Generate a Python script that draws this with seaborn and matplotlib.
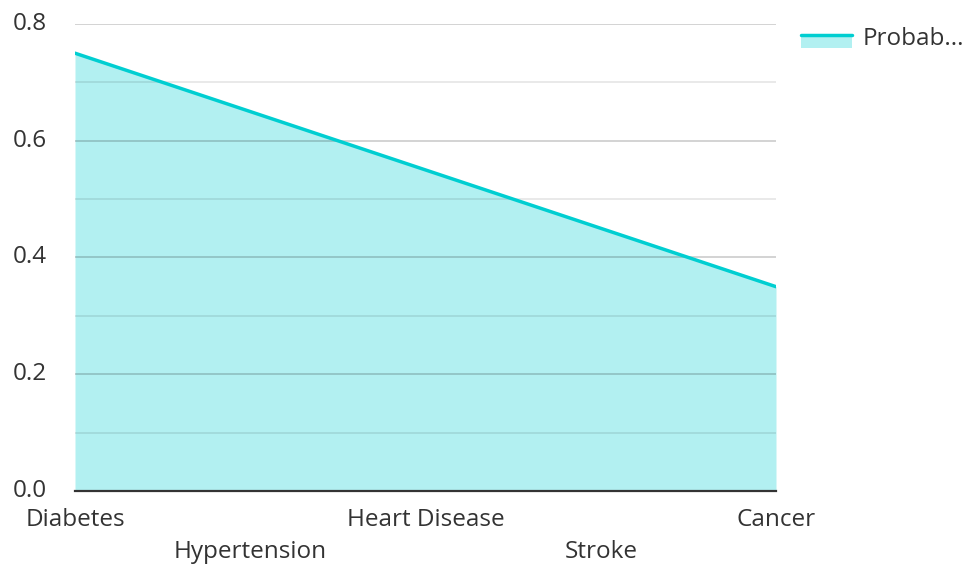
import numpy as np
import pandas as pd
import seaborn as sns
import matplotlib.pyplot as plt
from matplotlib.patches import Rectangle
from matplotlib.lines import Line2D
from matplotlib.legend_handler import HandlerBase
from matplotlib.ticker import MultipleLocator

diseases = ['Diabetes', 'Hypertension', 'Heart Disease', 'Stroke', 'Cancer']
probability = [0.75, 0.65, 0.55, 0.45, 0.35]
series_name = 'Probab...'

df = pd.DataFrame({'Disease': diseases, 'Probability': probability})

sns.set_style('white')
plt.rcParams['font.family'] = ['Open Sans', 'DejaVu Sans']

teal = '#00CED1'
fs = 17.5

fig = plt.figure(figsize=(9.66, 5.66), dpi=100)
ax = fig.add_axes([75/966, 1 - 491/566, (776-75)/966, (491-24)/566])

sns.lineplot(data=df, x='Disease', y='Probability', color=teal, linewidth=2.5,
             ax=ax, zorder=3, sort=False)
ax.fill_between(df['Disease'], df['Probability'], 0, color=teal, alpha=0.3,
                linewidth=0, zorder=0.3)

ax.set_xlim(0, len(diseases) - 1)
ax.set_ylim(0, 0.8)
ax.yaxis.set_major_locator(MultipleLocator(0.2))
ax.yaxis.set_minor_locator(MultipleLocator(0.1))
ax.yaxis.set_major_formatter(plt.FuncFormatter(lambda v, p: f'{v:.1f}'))
ax.set_axisbelow(True)
ax.grid(axis='y', which='major', color='black', alpha=0.2, linewidth=1.2)
ax.grid(axis='y', which='minor', color='black', alpha=0.1, linewidth=1.2)
ax.grid(axis='x', visible=False)

for s in ['top', 'right', 'left']:
    ax.spines[s].set_visible(False)
ax.spines['bottom'].set_color('#333333')
ax.spines['bottom'].set_linewidth(1.6)

ax.set_xlabel('')
ax.set_ylabel('')
ax.tick_params(axis='both', which='both', length=0, labelsize=fs, labelcolor='#333333')
ax.tick_params(axis='y', pad=20)
for i, t in enumerate(ax.xaxis.get_major_ticks()):
    t.set_pad(12 if i % 2 == 0 else 35)
for lab in ax.get_yticklabels():
    lab.set_verticalalignment('center')


class AreaHandler(HandlerBase):
    def create_artists(self, legend, orig, xd, yd, w, h, fontsize, trans):
        rect = Rectangle((xd, yd - 0.15 * h), w, h * 0.75, facecolor=teal, alpha=0.3,
                         edgecolor='none', transform=trans)
        ln = Line2D([xd, xd + w], [yd + 0.6 * h, yd + 0.6 * h], color=teal,
                    linewidth=2.5, transform=trans)
        return [rect, ln]


handle = Rectangle((0, 0), 1, 1)
fig.legend([handle], [series_name], handler_map={Rectangle: AreaHandler()},
           loc='upper left', bbox_to_anchor=(801/966, 1 - 27/566), frameon=False,
           fontsize=fs, handlelength=2.1, handletextpad=0.45, borderpad=0,
           borderaxespad=0, labelcolor='#333333')

fig.savefig('out.png', dpi=100)
